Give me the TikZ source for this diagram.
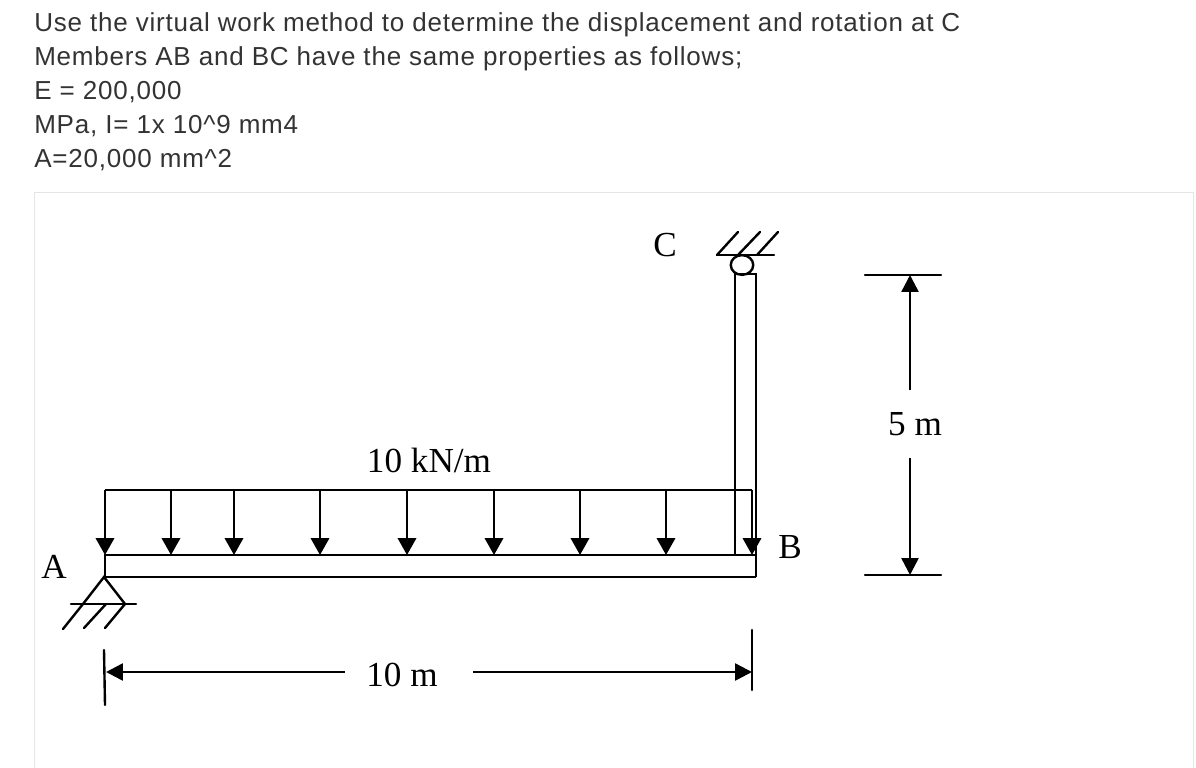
\documentclass[tikz,border=0pt]{standalone}
\usepackage{fontspec}
\setmainfont{Liberation Serif}
\newfontfamily\questionfont[LetterSpace=3]{Liberation Sans}
\usepackage{tikz}
\usetikzlibrary{arrows.meta}
\usetikzlibrary{shapes.geometric}
\tikzstyle{question} = [anchor=base west, inner sep=0pt, font=\questionfont\fontsize{18.5}{20}\selectfont, text=black!80]
\tikzstyle{beamLabel} = [inner sep=0pt, font=\fontsize{25}{28}\selectfont]
\tikzstyle{member} = [line width=1.8pt, line join=miter]
\tikzstyle{thinline} = [line width=1.7pt, line cap=round]
\tikzstyle{loadArrow} = [line width=1.8pt, -{Triangle[width=13pt,length=12pt]}]
\tikzstyle{dimArrow} = [line width=1.8pt, -{Triangle[width=12pt,length=12pt]}]

\begin{document}
\begin{tikzpicture}[x=0.025cm,y=-0.025cm] %pixel grid
  \useasboundingbox (0,0) rectangle (1196,768);
  \draw [black!10, line width=0.7pt] (34.5,768) -- (34.5,192.5) -- (1193.5,192.5) -- (1193.5,768);

  \node [question] (q1) at (34,32) {Use the virtual work method to determine the displacement and rotation at C};
  \node [question] (q2) at (34,66) {Members AB and BC have the same properties as follows;};
  \node [question] (q3) at (34,100) {E = 200,000};
  \node [question] (q4) at (34,134) {MPa, I= 1x 10\^{}9 mm4};
  \node [question] (q5) at (34,168) {A=20,000 mm\^{}2};

  \node [beamLabel] (c) at (665,245) {C};
  \node [beamLabel] (a) at (54,567) {A};
  \node [beamLabel] (b) at (790,547) {B};
  \node [beamLabel] (w) at (429,460) {10 kN/m};
  \node [beamLabel, inner xsep=15pt] (dimb) at (402,675) {10 m};
  \node [beamLabel, inner ysep=16pt] (dimr) at (915,424) {5 m};

  % members
  \coordinate (ab1) at (105,555);
  \coordinate (ab2) at (756,555);
  \coordinate (ab3) at (756,577);
  \coordinate (ab4) at (105,577);
  \coordinate (bc1) at (735,555);
  \coordinate (bc2) at (735,274);
  \coordinate (bc3) at (756,274);
  \draw [member] (ab3) -- (ab4) -- (ab1) -- (ab2);
  \draw [member] (ab3) -- (bc3) -- (bc2) -- (bc1);

  % support at C
  \node [draw, ellipse, line width=1.7pt, minimum width=16pt, minimum height=14pt, inner sep=0pt] (pin) at (742,265) {};
  \coordinate (cl) at (717,255);
  \coordinate (cr) at (774,255);
  \coordinate (c1) at (738,255);
  \coordinate (c2) at (757,255);
  \coordinate (ch0) at (738,232);
  \coordinate (ch1) at (760,232);
  \coordinate (ch2) at (778,232);
  \draw [thinline] (cl) -- (cr);
  \draw [thinline] (cl) -- (ch0);
  \draw [thinline] (c1) -- (ch1);
  \draw [thinline] (c2) -- (ch2);

  % support at A
  \coordinate (ap) at (104,577);
  \coordinate (al) at (83,604);
  \coordinate (ar) at (125,604);
  \coordinate (gl) at (71,604);
  \coordinate (gr) at (136,604);
  \coordinate (am) at (106,604);
  \coordinate (ah0) at (63,629);
  \coordinate (ah1) at (84,628);
  \coordinate (ah2) at (105,628);
  \draw [thinline] (al) -- (ap) -- (ar);
  \draw [thinline] (gl) -- (gr);
  \draw [thinline] (al) -- (ah0);
  \draw [thinline] (am) -- (ah1);
  \draw [thinline] (ar) -- (ah2);

  % load
  \coordinate (t1) at (105,490);
  \coordinate (t2) at (171,490);
  \coordinate (t3) at (234,490);
  \coordinate (t4) at (320,490);
  \coordinate (t5) at (407,490);
  \coordinate (t6) at (494,490);
  \coordinate (t7) at (580,490);
  \coordinate (t8) at (666,490);
  \coordinate (t9) at (752,490);
  \coordinate (p1) at (105,555);
  \coordinate (p2) at (171,555);
  \coordinate (p3) at (234,555);
  \coordinate (p4) at (320,555);
  \coordinate (p5) at (407,555);
  \coordinate (p6) at (494,555);
  \coordinate (p7) at (580,555);
  \coordinate (p8) at (666,555);
  \coordinate (p9) at (752,555);
  \draw [member] (t1) -- (t9);
  \draw [loadArrow] (t1) -- (p1);
  \draw [loadArrow] (t2) -- (p2);
  \draw [loadArrow] (t3) -- (p3);
  \draw [loadArrow] (t4) -- (p4);
  \draw [loadArrow] (t5) -- (p5);
  \draw [loadArrow] (t6) -- (p6);
  \draw [loadArrow] (t7) -- (p7);
  \draw [loadArrow] (t8) -- (p8);
  \draw [loadArrow] (t9) -- (p9);

  % dimensions
  \coordinate (tl) at (106,672);
  \coordinate (tr) at (752,672);
  \coordinate (gapb) at (473,672);
  \coordinate (tl1) at (104,650);
  \coordinate (tl2) at (105,705);
  \coordinate (tr1) at (752,630);
  \coordinate (tr2) at (752,690);
  \draw [thinline] (tl1) -- (tl2);
  \draw [thinline] (tr1) -- (tr2);
  \draw [dimArrow] (dimb.west |- tl) -- (tl);
  \draw [dimArrow] (gapb) -- (tr);

  \coordinate (rt) at (910,275);
  \coordinate (rb) at (910,575);
  \coordinate (rt1) at (865,275);
  \coordinate (rt2) at (941,275);
  \coordinate (rb1) at (865,575);
  \coordinate (rb2) at (941,575);
  \draw [thinline] (rt1) -- (rt2);
  \draw [thinline] (rb1) -- (rb2);
  \draw [dimArrow] (rt |- dimr.north) -- (rt);
  \draw [dimArrow] (rb |- dimr.south) -- (rb);
\end{tikzpicture}
\end{document}
